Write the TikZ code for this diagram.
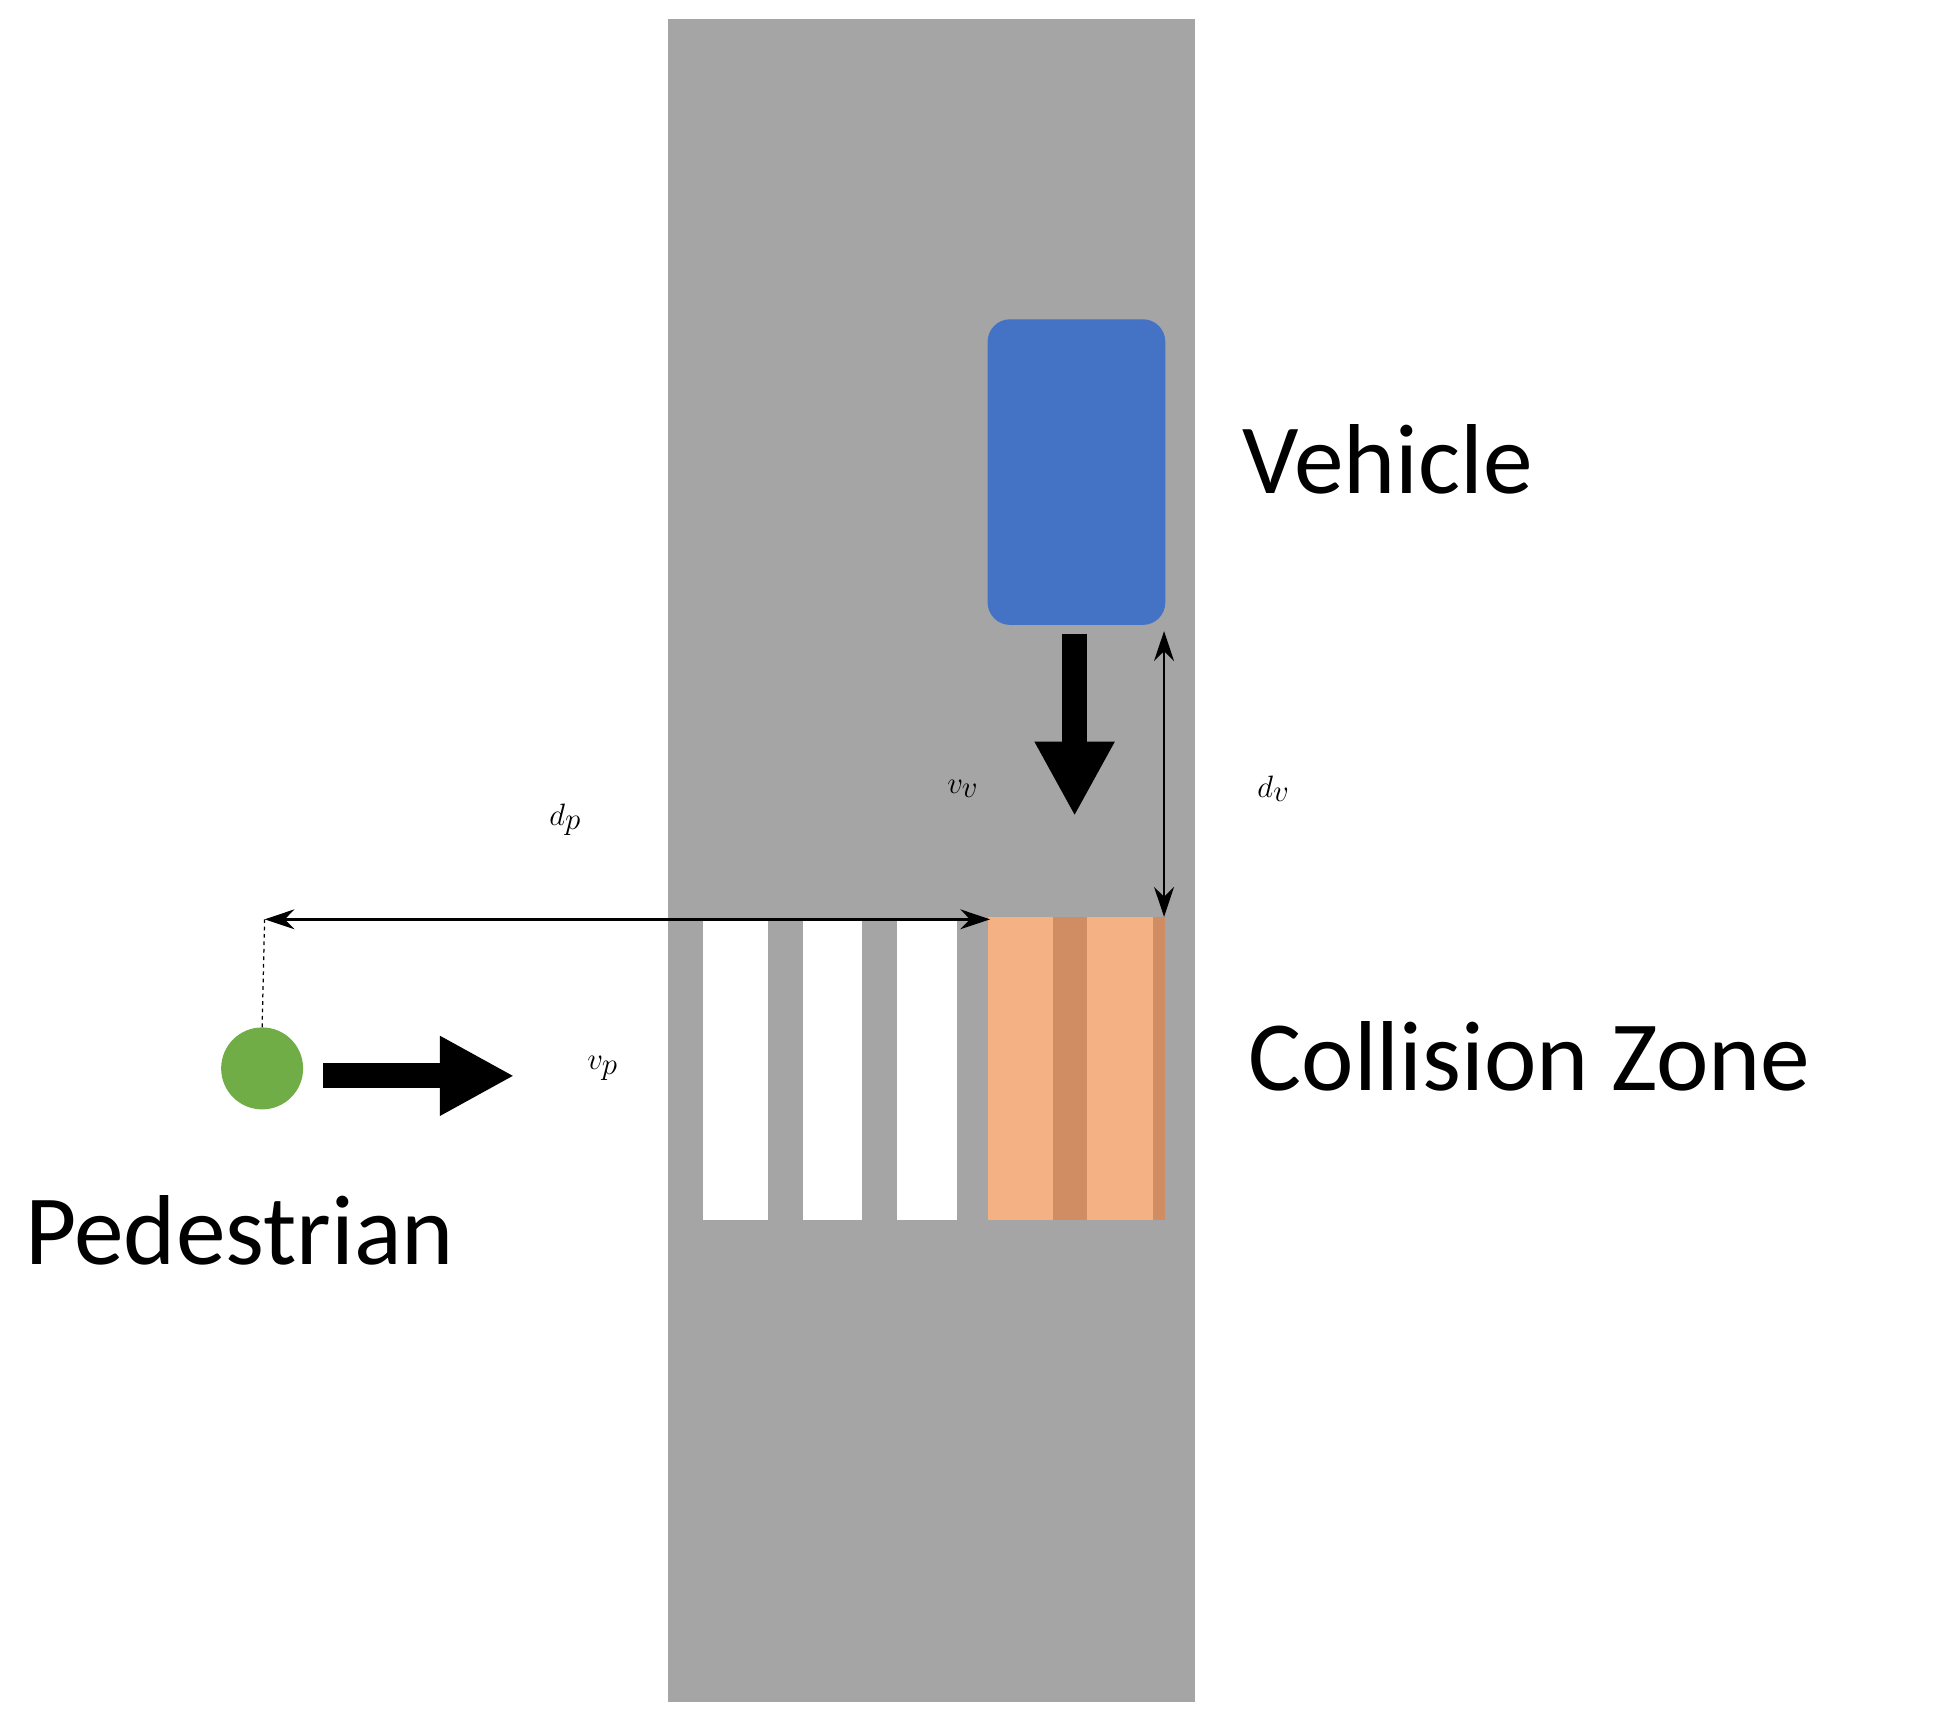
\documentclass[tikz,border=0pt]{standalone}
\usepackage{fontspec}
\setmainfont{Carlito}
\usetikzlibrary{arrows.meta}
\definecolor{road}{RGB}{165,165,165}
\definecolor{veh}{RGB}{68,114,196}
\definecolor{zone}{RGB}{244,177,131}
\definecolor{zoned}{RGB}{208,140,98}
\definecolor{ped}{RGB}{112,173,71}
\begin{document}
\begin{tikzpicture}[x=1pt,y=-1pt,
  lbl/.style={font=\fontsize{80}{96}\selectfont,inner sep=0},
  mlbl/.style={font=\fontsize{95}{110}\selectfont,inner sep=0},
  big/.style={line width=20pt,-{Triangle[length=60pt,width=60pt]}},
  dim/.style={line width=2pt,{Stealth[length=24pt,width=16pt]}-{Stealth[length=24pt,width=16pt]}}]
\useasboundingbox (0,0) rectangle (1560,1390);
\fill[road] (538,15) rectangle (962,1370);
\node[fill=veh,rounded corners=18pt,minimum width=143pt,minimum height=246pt,inner sep=0] (veh) at (866.5,380) {};
\node[lbl,anchor=west] (vl) at (1000,370) {Vehicle};
\fill[zone] (795,738) rectangle (938,982);
\fill[zoned] (848,738) rectangle (875,982);
\fill[zoned] (928,738) rectangle (938,982);
\foreach \a/\b in {566/618,646/694,722/770} \fill[white] (\a,740) rectangle (\b,982);
\coordinate (zc) at (797,740);
\coordinate (zt) at (937,738);
\coordinate (vb) at (937,508);
\node[lbl,anchor=west] (cz) at (1005,850) {Collision Zone};
\coordinate (a1) at (865,510);
\coordinate (a2) at (865,657);
\draw[big] (a1) -- (a2);
\node[mlbl] (vv) at (775,635) {$v_v$};
\draw[dim] (vb) -- (zt);
\node[mlbl] (dv) at (1025,635) {$d_v$};
\node[circle,fill=ped,minimum size=66pt,inner sep=0] (p) at (211,860) {};
\coordinate (pt) at (213,740);
\draw[dashed,line width=1pt] (p.north) -- (pt);
\draw[dim] (pt) -- (zc);
\node[mlbl] (dp) at (455,660) {$d_p$};
\coordinate (b1) at (260,866);
\coordinate (b2) at (414,866);
\draw[big] (b1) -- (b2);
\node[mlbl] (vp) at (485,860) {$v_p$};
\node[lbl,anchor=west] (pl) at (20,990) {Pedestrian};
\end{tikzpicture}
\end{document}
